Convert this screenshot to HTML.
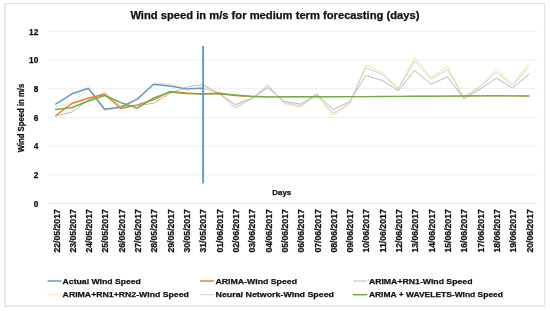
<!DOCTYPE html>
<html><head><meta charset="utf-8"><title>Wind speed chart</title>
<style>html,body{margin:0;padding:0;background:#fff}svg{display:block}text{stroke:#111;stroke-width:0.25px;font-family:"Liberation Sans",sans-serif;font-weight:bold;fill:#111}</style></head><body>
<svg width="550" height="311" viewBox="0 0 550 311">
<rect x="0" y="0" width="550" height="311" fill="#fff"/>
<line x1="5.05" x2="5.05" y1="3" y2="306.7" stroke="#e9e9e9" stroke-width="2"/>
<line x1="4" x2="545.1" y1="3.5" y2="3.5" stroke="#e2e2e2" stroke-width="1"/>
<line x1="544.6" x2="544.6" y1="3" y2="306.7" stroke="#e2e2e2" stroke-width="1.1"/>
<line x1="4" x2="545.1" y1="305.8" y2="305.8" stroke="#e9e9e9" stroke-width="1.8"/>
<line x1="48" x2="537.3" y1="203.5" y2="203.5" stroke="#e6e6e6" stroke-width="1"/>
<text x="38.3" y="206.7" font-size="8.3" text-anchor="end">0</text>
<line x1="48" x2="537.3" y1="174.8" y2="174.8" stroke="#eeeeee" stroke-width="1"/>
<text x="38.3" y="178.0" font-size="8.3" text-anchor="end">2</text>
<line x1="48" x2="537.3" y1="146.1" y2="146.1" stroke="#eeeeee" stroke-width="1"/>
<text x="38.3" y="149.3" font-size="8.3" text-anchor="end">4</text>
<line x1="48" x2="537.3" y1="117.5" y2="117.5" stroke="#eeeeee" stroke-width="1"/>
<text x="38.3" y="120.7" font-size="8.3" text-anchor="end">6</text>
<line x1="48" x2="537.3" y1="88.8" y2="88.8" stroke="#eeeeee" stroke-width="1"/>
<text x="38.3" y="92.0" font-size="8.3" text-anchor="end">8</text>
<line x1="48" x2="537.3" y1="60.1" y2="60.1" stroke="#eeeeee" stroke-width="1"/>
<text x="38.3" y="63.3" font-size="8.3" text-anchor="end">10</text>
<line x1="48" x2="537.3" y1="31.4" y2="31.4" stroke="#eeeeee" stroke-width="1"/>
<text x="38.3" y="34.6" font-size="8.3" text-anchor="end">12</text>
<text x="130.4" y="19" font-size="10.3" textLength="289" lengthAdjust="spacingAndGlyphs">Wind speed in m/s for medium term forecasting (days)</text>
<text transform="translate(24,152.3) rotate(-90)" font-size="8.3" textLength="68.5" lengthAdjust="spacingAndGlyphs">Wind Speed in m/s</text>
<text x="272.3" y="195.4" font-size="7.9" textLength="19" lengthAdjust="spacingAndGlyphs">Days</text>
<polyline fill="none" stroke="#a5a5a5" stroke-width="0.8" stroke-linejoin="round" points="55.7,116.0 72.0,112.0 88.3,100.0 104.7,92.5 121.0,106.4 137.3,105.6 153.6,103.2 169.9,93.3 186.3,87.2 202.6,84.5 218.9,93.3 235.2,104.6 251.5,98.4 267.9,87.7 284.2,101.3 300.5,104.2 316.8,94.0 333.1,109.5 349.5,101.8 365.8,75.5 382.1,80.4 398.4,90.7 414.7,70.4 431.1,84.3 447.4,76.8 463.7,98.7 480.0,89.2 496.3,78.1 512.7,88.1 529.0,74.0"/>
<polyline fill="none" stroke="#ffd966" stroke-width="0.8" stroke-linejoin="round" points="55.7,107.0 72.0,103.0 88.3,89.0 104.7,110.5 121.0,108.0 137.3,99.5 153.6,83.8 169.9,83.8 186.3,90.4 202.6,86.3 218.9,93.0 235.2,108.1 251.5,99.1 267.9,84.5 284.2,103.7 300.5,107.1 316.8,95.0 333.1,115.5 349.5,103.9 365.8,65.0 382.1,72.7 398.4,88.2 414.7,57.5 431.1,77.3 447.4,66.5 463.7,97.1 480.0,86.0 496.3,69.1 512.7,84.3 529.0,63.2"/>
<polyline fill="none" stroke="#b4c7e7" stroke-width="0.8" stroke-linejoin="round" points="202.6,88.2 218.9,93.0 235.2,107.1 251.5,98.8 267.9,85.7 284.2,102.7 300.5,106.0 316.8,94.7 333.1,113.4 349.5,103.1 365.8,67.8 382.1,74.3 398.4,88.9 414.7,61.1 431.1,79.1 447.4,69.6 463.7,97.9 480.0,87.2 496.3,72.2 512.7,85.8 529.0,66.5"/>
<polyline fill="none" stroke="#5b9bd5" stroke-width="1.45" stroke-linejoin="round" stroke-linecap="round" points="55.7,104.2 72.0,93.8 88.3,88.2 104.7,109.3 121.0,107.0 137.3,99.1 153.6,84.2 169.9,86.0 186.3,88.9 202.6,88.2"/>
<polyline fill="none" stroke="#ed7d31" stroke-width="1.45" stroke-linejoin="round" stroke-linecap="round" points="55.7,115.5 72.0,103.5 88.3,98.0 104.7,94.5 121.0,108.5 137.3,104.9 153.6,99.8 169.9,91.5 186.3,93.0 202.6,94.0 218.9,93.0 235.2,95.5 251.5,96.6 267.9,96.9"/>
<polyline fill="none" stroke="#ed7d31" stroke-width="0.8" stroke-linejoin="round" points="267.9,96.9 284.2,96.8 300.5,96.8 316.8,96.7 333.1,96.7 349.5,96.6 365.8,96.6 382.1,96.5 398.4,96.4 414.7,96.3 431.1,96.2 447.4,96.1 463.7,96.0 480.0,95.9 496.3,95.8 512.7,95.9 529.0,96.0"/>
<polyline fill="none" stroke="#70ad47" stroke-width="1.45" stroke-linejoin="round" stroke-linecap="round" points="55.7,109.5 72.0,107.5 88.3,101.0 104.7,95.5 121.0,102.7 137.3,108.1 153.6,97.9 169.9,92.1 186.3,93.6 202.6,93.8 218.9,94.0 235.2,95.0 251.5,96.2 267.9,96.9 284.2,96.8 300.5,96.8 316.8,96.7 333.1,96.7 349.5,96.6 365.8,96.6 382.1,96.5 398.4,96.4 414.7,96.3 431.1,96.2 447.4,96.1 463.7,96.0 480.0,95.9 496.3,95.8 512.7,95.9 529.0,96.0"/>
<line x1="203.1" x2="203.1" y1="45.8" y2="183.4" stroke="#5b9bd5" stroke-width="1.9"/>
<text transform="translate(59.5,252.5) rotate(-90)" font-size="8.3" textLength="43.3" lengthAdjust="spacingAndGlyphs">22/05/2017</text>
<text transform="translate(75.8,252.5) rotate(-90)" font-size="8.3" textLength="43.3" lengthAdjust="spacingAndGlyphs">23/05/2017</text>
<text transform="translate(92.1,252.5) rotate(-90)" font-size="8.3" textLength="43.3" lengthAdjust="spacingAndGlyphs">24/05/2017</text>
<text transform="translate(108.4,252.5) rotate(-90)" font-size="8.3" textLength="43.3" lengthAdjust="spacingAndGlyphs">25/05/2017</text>
<text transform="translate(124.7,252.5) rotate(-90)" font-size="8.3" textLength="43.3" lengthAdjust="spacingAndGlyphs">26/05/2017</text>
<text transform="translate(141.0,252.5) rotate(-90)" font-size="8.3" textLength="43.3" lengthAdjust="spacingAndGlyphs">27/05/2017</text>
<text transform="translate(157.4,252.5) rotate(-90)" font-size="8.3" textLength="43.3" lengthAdjust="spacingAndGlyphs">28/05/2017</text>
<text transform="translate(173.7,252.5) rotate(-90)" font-size="8.3" textLength="43.3" lengthAdjust="spacingAndGlyphs">29/05/2017</text>
<text transform="translate(190.0,252.5) rotate(-90)" font-size="8.3" textLength="43.3" lengthAdjust="spacingAndGlyphs">30/05/2017</text>
<text transform="translate(206.3,252.5) rotate(-90)" font-size="8.3" textLength="43.3" lengthAdjust="spacingAndGlyphs">31/05/2017</text>
<text transform="translate(222.6,252.5) rotate(-90)" font-size="8.3" textLength="43.3" lengthAdjust="spacingAndGlyphs">01/06/2017</text>
<text transform="translate(238.9,252.5) rotate(-90)" font-size="8.3" textLength="43.3" lengthAdjust="spacingAndGlyphs">02/06/2017</text>
<text transform="translate(255.2,252.5) rotate(-90)" font-size="8.3" textLength="43.3" lengthAdjust="spacingAndGlyphs">03/06/2017</text>
<text transform="translate(271.5,252.5) rotate(-90)" font-size="8.3" textLength="43.3" lengthAdjust="spacingAndGlyphs">04/06/2017</text>
<text transform="translate(287.8,252.5) rotate(-90)" font-size="8.3" textLength="43.3" lengthAdjust="spacingAndGlyphs">05/06/2017</text>
<text transform="translate(304.1,252.5) rotate(-90)" font-size="8.3" textLength="43.3" lengthAdjust="spacingAndGlyphs">06/06/2017</text>
<text transform="translate(320.5,252.5) rotate(-90)" font-size="8.3" textLength="43.3" lengthAdjust="spacingAndGlyphs">07/06/2017</text>
<text transform="translate(336.8,252.5) rotate(-90)" font-size="8.3" textLength="43.3" lengthAdjust="spacingAndGlyphs">08/06/2017</text>
<text transform="translate(353.1,252.5) rotate(-90)" font-size="8.3" textLength="43.3" lengthAdjust="spacingAndGlyphs">09/06/2017</text>
<text transform="translate(369.4,252.5) rotate(-90)" font-size="8.3" textLength="43.3" lengthAdjust="spacingAndGlyphs">10/06/2017</text>
<text transform="translate(385.7,252.5) rotate(-90)" font-size="8.3" textLength="43.3" lengthAdjust="spacingAndGlyphs">11/06/2017</text>
<text transform="translate(402.0,252.5) rotate(-90)" font-size="8.3" textLength="43.3" lengthAdjust="spacingAndGlyphs">12/06/2017</text>
<text transform="translate(418.3,252.5) rotate(-90)" font-size="8.3" textLength="43.3" lengthAdjust="spacingAndGlyphs">13/06/2017</text>
<text transform="translate(434.6,252.5) rotate(-90)" font-size="8.3" textLength="43.3" lengthAdjust="spacingAndGlyphs">14/06/2017</text>
<text transform="translate(450.9,252.5) rotate(-90)" font-size="8.3" textLength="43.3" lengthAdjust="spacingAndGlyphs">15/06/2017</text>
<text transform="translate(467.2,252.5) rotate(-90)" font-size="8.3" textLength="43.3" lengthAdjust="spacingAndGlyphs">16/06/2017</text>
<text transform="translate(483.6,252.5) rotate(-90)" font-size="8.3" textLength="43.3" lengthAdjust="spacingAndGlyphs">17/06/2017</text>
<text transform="translate(499.9,252.5) rotate(-90)" font-size="8.3" textLength="43.3" lengthAdjust="spacingAndGlyphs">18/06/2017</text>
<text transform="translate(516.2,252.5) rotate(-90)" font-size="8.3" textLength="43.3" lengthAdjust="spacingAndGlyphs">19/06/2017</text>
<text transform="translate(532.5,252.5) rotate(-90)" font-size="8.3" textLength="43.3" lengthAdjust="spacingAndGlyphs">20/06/2017</text>
<line x1="47.5" x2="61.3" y1="281.0" y2="281.0" stroke="#5b9bd5" stroke-width="1.5"/>
<text x="62.6" y="283.7" font-size="8.1" textLength="78.3" lengthAdjust="spacingAndGlyphs">Actual Wind Speed</text>
<line x1="200.1" x2="214.0" y1="281.0" y2="281.0" stroke="#ed7d31" stroke-width="1.5"/>
<text x="215.5" y="283.7" font-size="8.1" textLength="81.5" lengthAdjust="spacingAndGlyphs">ARIMA-Wind Speed</text>
<line x1="353" x2="367.3" y1="281.0" y2="281.0" stroke="#c8c8c8" stroke-width="1.2"/>
<text x="368.9" y="283.7" font-size="8.1" textLength="103.6" lengthAdjust="spacingAndGlyphs">ARIMA+RN1-Wind Speed</text>
<line x1="47.5" x2="61.3" y1="294.7" y2="294.7" stroke="#ffe08a" stroke-width="0.75"/>
<text x="62.6" y="297.4" font-size="8.1" textLength="126.3" lengthAdjust="spacingAndGlyphs">ARIMA+RN1+RN2-Wind Speed</text>
<line x1="200.1" x2="214.0" y1="294.7" y2="294.7" stroke="#a9c0e8" stroke-width="0.75"/>
<text x="215.5" y="297.4" font-size="8.1" textLength="118.5" lengthAdjust="spacingAndGlyphs">Neural Network-Wind Speed</text>
<line x1="353" x2="367.3" y1="294.7" y2="294.7" stroke="#70ad47" stroke-width="1.5"/>
<text x="368.9" y="297.4" font-size="8.1" textLength="134.1" lengthAdjust="spacingAndGlyphs">ARIMA + WAVELETS-Wind Speed</text>
</svg></body></html>
